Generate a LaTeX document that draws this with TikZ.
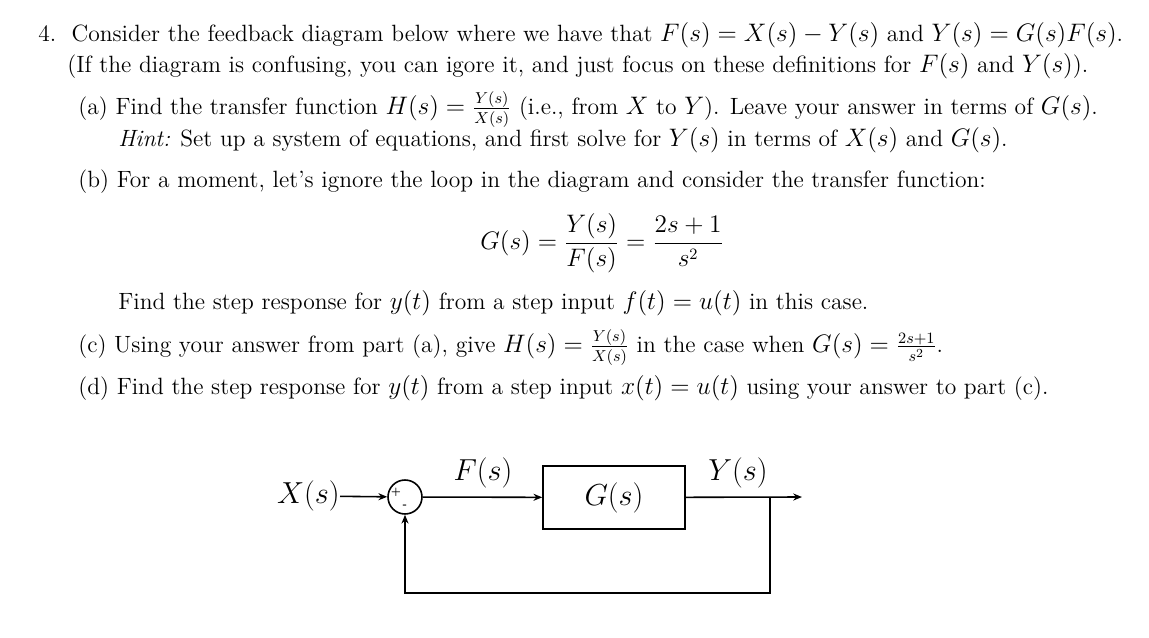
\documentclass[tikz,border=0pt]{standalone}
\usetikzlibrary{arrows.meta}
\begin{document}
\begin{tikzpicture}[x=0.02cm,y=-0.02cm,
  txt/.style={anchor=base west,inner sep=0pt,font=\fontsize{13.4}{16}\selectfont},
  lab/.style={inner sep=0pt,font=\fontsize{19}{22}\selectfont},
  sig/.style={line width=0.9pt,-{Stealth[length=5pt,width=4pt]}},
  wire/.style={line width=0.9pt}]
\useasboundingbox (0,0) rectangle (1149,638);
\node[txt] (l1) at (38,42) {4.\ \ Consider the feedback diagram below where we have that $F(s)=X(s)-Y(s)$ and $Y(s)=G(s)F(s)$.};
\node[txt] (l2) at (67,73) {(If the diagram is confusing, you can igore it, and just focus on these definitions for $F(s)$ and $Y(s)$).};
\node[txt] (la) at (78,115) {(a)\ Find the transfer function $H(s)=\frac{Y(s)}{X(s)}$ (i.e., from $X$ to $Y$). Leave your answer in terms of $G(s)$.};
\node[txt] (lh) at (118,147) {\textit{Hint:} Set up a system of equations, and first solve for $Y(s)$ in terms of $X(s)$ and $G(s)$.};
\node[txt] (lb) at (78,188) {(b)\ For a moment, let's ignore the loop in the diagram and consider the transfer function:};
\node[txt,anchor=west] (eq) at (480,243) {$\displaystyle G(s)=\frac{Y(s)}{F(s)}=\frac{2s+1}{s^2}$};
\node[txt] (lf) at (118,310) {Find the step response for $y(t)$ from a step input $f(t)=u(t)$ in this case.};
\node[txt] (lc) at (78,353) {(c)\ Using your answer from part (a), give $H(s)=\frac{Y(s)}{X(s)}$ in the case when $G(s)=\frac{2s+1}{s^2}$.};
\node[txt] (ld) at (78,395) {(d)\ Find the step response for $y(t)$ from a step input $x(t)=u(t)$ using your answer to part (c).};
% diagram
\node[lab,anchor=east] (X) at (340,496) {$X(s)$};
\node[draw,circle,line width=0.9pt,inner sep=0pt,minimum size=0.68cm] (sum) at (405,497) {};
\node[inner sep=0pt,font=\tiny\bfseries] (plus) at (396,492) {+};
\node[inner sep=0pt,font=\tiny\bfseries] (minus) at (405,506) {-};
\node[draw,line width=0.9pt,minimum width=2.84cm,minimum height=1.26cm,inner sep=0pt,lab] (G) at (614,497.5) {$G(s)$};
\node[lab] (F) at (483,473) {$F(s)$};
\node[lab] (Y) at (738,473) {$Y(s)$};
\coordinate (out) at (802,497);
\coordinate (br) at (770,497);
\coordinate (bl) at (770,593);
\coordinate (bk) at (405,593);
\draw[sig] (X) -- (sum);
\draw[sig] (sum) -- (G);
\draw[sig] (G) -- (out);
\draw[wire,-{Stealth[length=5pt,width=4pt]}] (br) -- (bl) -- (bk) -- (sum.south);
\end{tikzpicture}
\end{document}
